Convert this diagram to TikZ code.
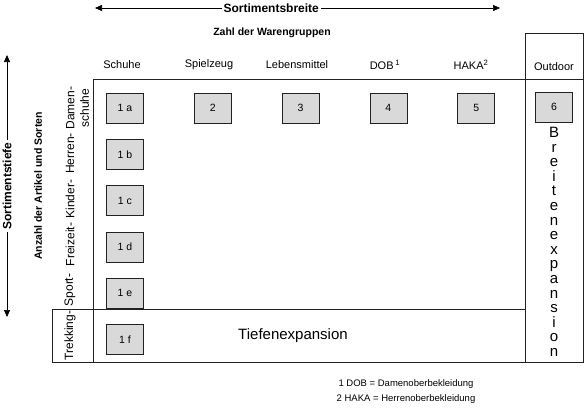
\documentclass[tikz,border=0pt]{standalone}
\usepackage{fontspec}
\setmainfont{Liberation Sans}
\usepackage{tikz}
\usetikzlibrary{arrows.meta,positioning}
\definecolor{cCell}{HTML}{D9D9D9}
\definecolor{cLine}{HTML}{222222}
\tikzset{
  cell/.style={draw=cLine, line width=0.8pt, fill=cCell, minimum width=37pt, minimum height=30pt,
               inner sep=0pt, font=\fontsize{10.5}{12}\selectfont},
  frame/.style={draw=cLine, line width=0.9pt},
  head/.style={font=\fontsize{11}{13}\selectfont},
  side/.style={font=\fontsize{12}{14.5}\selectfont, rotate=90, align=center, inner sep=1pt},
  dim/.style={{Triangle[length=7pt,width=6pt]}-{Triangle[length=7pt,width=6pt]}, line width=0.7pt, draw=black},
  title/.style={font=\bfseries\fontsize{12}{14}\selectfont, fill=white, inner sep=2pt},
  sub/.style={font=\bfseries\fontsize{10.5}{12}\selectfont},
  big/.style={font=\fontsize{15}{14.6}\selectfont},
}

\begin{document}
\begin{tikzpicture}[x=1pt, y=-1pt, node distance=15.5pt and 50pt]
  \useasboundingbox (0,0) rectangle (585,407);
  % frames
  \draw[frame] (93,79) rectangle (525,362);
  \draw[frame] (525,33) rectangle (583,362);
  \draw[frame] (52,309) rectangle (525,362);
  \draw[frame] (93,79) -- (583,79);
  % axes
  \coordinate (bL) at (95,8);  \coordinate (bR) at (500,8);
  \coordinate (tT) at (7,55);  \coordinate (tB) at (7,317);
  \draw[dim] (bL) -- (bR) node[title, pos=0.435] (breitelbl) {Sortimentsbreite};
  \draw[dim] (tT) -- (tB) node[title, midway, rotate=90] (tiefelbl) {Sortimentstiefe};
  \node[sub] (zahl) at (272,33) {Zahl der Warengruppen};
  \node[sub, rotate=90] (anzahl) at (38,186) {Anzahl der Artikel und Sorten};
  % column heads
  \node[head] (hSchuhe) at (122,65) {Schuhe};
  \node[head] (hSpiel) at (209,65) {Spielzeug};
  \node[head] (hLeben) at (297,65) {Lebensmittel};
  \node[head] (hDob) at (385,65) {DOB\,\textsuperscript{1}};
  \node[head] (hHaka) at (471,65) {HAKA\textsuperscript{2}};
  \node[head] (hOut) at (554,67) {Outdoor};
  % cells
  \node[cell] (c1a) at (125,108) {1 a};
  \node[cell, below=of c1a] (c1b) {1 b};
  \node[cell, below=of c1b] (c1c) {1 c};
  \node[cell, below=of c1c] (c1d) {1 d};
  \node[cell, below=of c1d] (c1e) {1 e};
  \node[cell, below=of c1e] (c1f) {1 f};
  \node[cell, right=of c1a] (c2) {2};
  \node[cell, right=of c2] (c3) {3};
  \node[cell, right=of c3] (c4) {4};
  \node[cell, right=of c4] (c5) {5};
  \node[cell] (c6) at (554,107) {6};
  % row labels
  \node[side] (lDamen) at (77.5,108) {Damen-\\schuhe};
  \node[side] (lHerren) at (70,153.5) {Herren-};
  \node[side] (lKinder) at (70,199) {Kinder-};
  \node[side] (lFrei) at (70,244.5) {Freizeit-};
  \node[side] (lSport) at (70,290) {Sport-};
  \node[side] (lTrek) at (70,335.5) {Trekking-};
  % expansions
  \node[big] (tiefe) at (293,336) {Tiefenexpansion};
  \node[big, align=center, anchor=north, inner sep=0pt] (breite) at (554,127)
    {B\\r\\e\\i\\t\\e\\n\\e\\x\\p\\a\\n\\s\\i\\o\\n};
  % notes
  \node[font=\fontsize{9.5}{15}\selectfont, align=center] (notes) at (406,392)
    {1 DOB = Damenoberbekleidung\\2 HAKA = Herrenoberbekleidung};
\end{tikzpicture}
\end{document}
